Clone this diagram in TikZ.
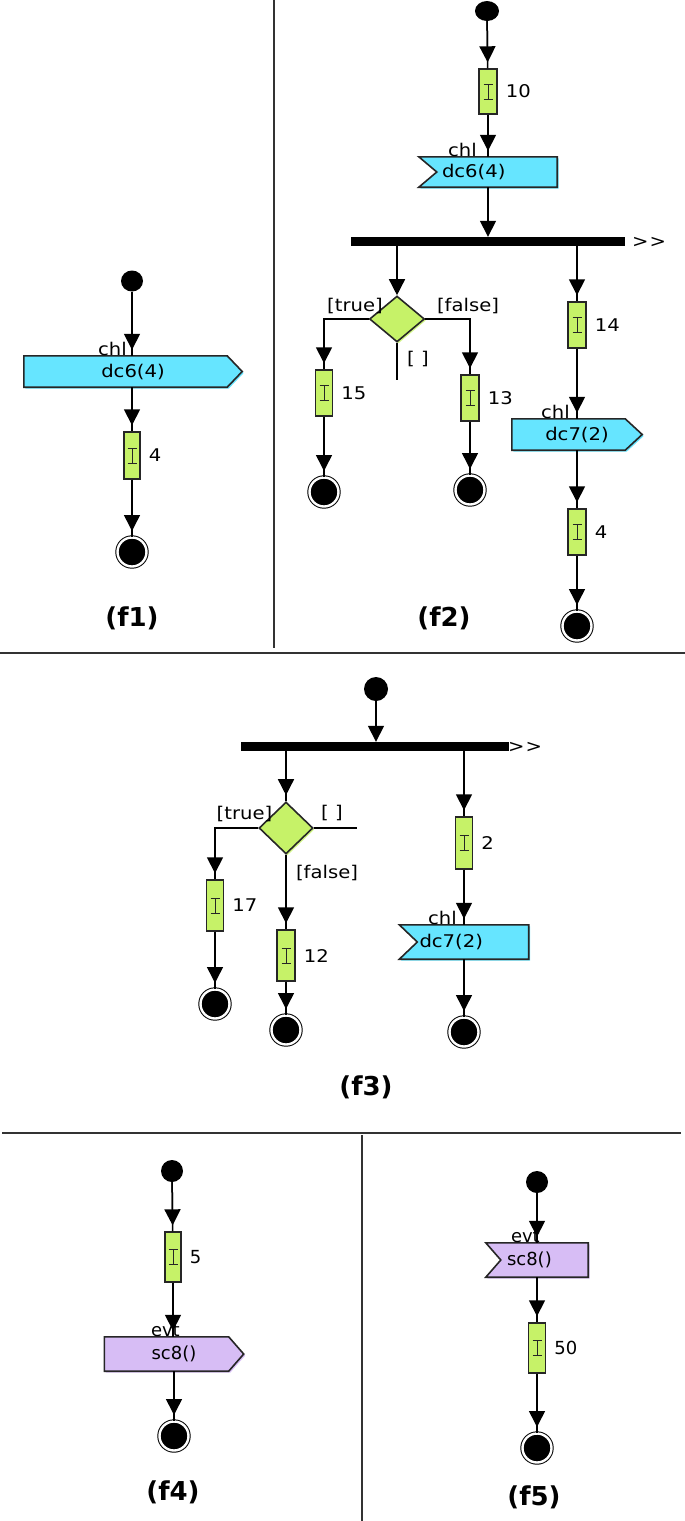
\documentclass[tikz,border=0pt]{standalone}
\usepackage{fontspec}
\setmainfont{DejaVu Sans}
\newfontfamily\wfont[FakeStretch=1.12]{DejaVu Sans}
\usetikzlibrary{arrows.meta,shapes.geometric,backgrounds,shadows}
\definecolor{cyanc}{HTML}{66E5FF}
\definecolor{greenc}{HTML}{C6F268}
\definecolor{purplec}{HTML}{D7BDF5}
\newcommand\curfont{\wfont\fontsize{17.5}{20}\selectfont}
\tikzset{
 conn/.style={line width=1.5pt},
 flow/.style={conn, postaction={draw, -{Triangle[length=16pt,width=16pt]}, shorten >=6pt}},
 flowb/.style={conn, -{Triangle[length=16pt,width=16pt]}},
 txt/.style={font=\curfont, inner sep=0pt},
 initnode/.style={ellipse, fill=black, inner sep=0pt},
 finalnode/.style={circle, draw=black, line width=1pt, double=white, double distance=2.4pt, fill=black, minimum size=29pt, inner sep=0pt},
 actbox/.style={rectangle, draw=black!85, fill=greenc, line width=1.4pt, inner sep=0pt,
   minimum width=17pt, minimum height=46pt,
   path picture={\draw[line width=1pt]
     ([yshift=7.5pt]path picture bounding box.center) -- ([yshift=-7.5pt]path picture bounding box.center)
     ([shift={(-4.5pt,7.5pt)}]path picture bounding box.center) -- ([shift={(4.5pt,7.5pt)}]path picture bounding box.center)
     ([shift={(-4.5pt,-7.5pt)}]path picture bounding box.center) -- ([shift={(4.5pt,-7.5pt)}]path picture bounding box.center);},
   label={[txt, label distance=8pt]right:#1}},
 sigbox/.style={rectangle, inner sep=0pt, font=\curfont},
 shapeline/.style={draw=black!85, line width=1.6pt, line join=miter},
 decision/.style={diamond, draw=black!85, line width=1.6pt, fill=greenc, inner sep=0pt,
   drop shadow={shadow xshift=1.5pt, shadow yshift=-1.5pt, fill=greenc, opacity=0.8}},
 bar/.style={rectangle, fill=black, inner sep=0pt, minimum height=9pt},
 sep/.style={line width=1.2pt, draw=black!80},
 title/.style={font=\bfseries\fontsize{26}{30}\selectfont, inner sep=0pt},
}
\newcommand\SendOut[3]{%
 \begin{scope}[transform canvas={xshift=1.5pt,yshift=-1.5pt}]
  \fill[#3] (#1.north west) -- ([xshift=-#2pt]#1.north east) -- (#1.east) -- ([xshift=-#2pt]#1.south east) -- (#1.south west) -- cycle;
 \end{scope}
 \filldraw[fill=#3, shapeline] (#1.north west) -- ([xshift=-#2pt]#1.north east) -- (#1.east) -- ([xshift=-#2pt]#1.south east) -- (#1.south west) -- cycle;}
\newcommand\RecvOut[3]{%
 \begin{scope}[transform canvas={xshift=1.5pt,yshift=-1.5pt}]
  \fill[#3] (#1.north west) -- (#1.north east) -- (#1.south east) -- (#1.south west) -- ([xshift=#2pt]#1.west) -- cycle;
 \end{scope}
 \filldraw[fill=#3, shapeline] (#1.north west) -- (#1.north east) -- (#1.south east) -- (#1.south west) -- ([xshift=#2pt]#1.west) -- cycle;}
\begin{document}
\begin{tikzpicture}[x=1pt,y=-1pt]
\useasboundingbox (0,0) rectangle (685,1521);
% separators
\draw[sep] (274,0) -- (274,648);
\draw[sep] (0,653) -- (685,653);
\draw[sep] (2,1133) -- (681,1133);
\draw[sep] (362,1135) -- (362,1521);

% ---------- f1
\node[initnode, minimum width=22pt, minimum height=21pt] (i1) at (132,281) {};
\node[sigbox, minimum width=218pt, minimum height=31pt] (s1) at (133,371.5) {dc6(4)};
\node[txt, anchor=south east] (s1l) at (127,356) {chl};
\node[actbox=4, minimum width=16pt, minimum height=47pt] (a4) at (132,455.5) {};
\node[finalnode] (fin1) at (132,552) {};
\node[title] (t1) at (132,618) {(f1)};
\draw[flow] (i1) -- (i1 |- s1.north);
\draw[flow] (s1.south -| a4.north) -- (a4.north);
\draw[flow] (a4) -- (fin1);

% ---------- f2
\node[initnode, minimum width=24pt, minimum height=20pt] (i2) at (487,11) {};
\node[actbox=10, minimum width=18pt, minimum height=45pt] (a10) at (488,91.5) {};
\node[sigbox, minimum width=138pt, minimum height=30pt, inner xsep=23pt, text width=92pt, align=left] (r2) at (488,172) {dc6(4)};
\node[txt, anchor=south east] (r2l) at (477,157) {chl};
\node[bar, minimum width=274pt] (bar2) at (488,241.5) {};
\node[txt, anchor=west] (bar2l) at (632,242) {>\kern1pt>};
\node[decision, minimum width=55pt, minimum height=46pt] (d1) at (397,319) {};
\node[txt] (g1) at (355,306) {[true]};
\node[txt] (g2) at (468,306) {[false]};
\node[txt] (g3) at (418,359) {[ ]};
\coordinate (d1end) at (397,380);
\node[actbox=15, minimum width=17pt] (a15) at (324,393) {};
\node[finalnode] (fin2a) at (324,492) {};
\node[actbox=13, minimum width=18pt] (a13) at (470,398) {};
\node[finalnode] (fin2b) at (470,490) {};
\node[actbox=14, minimum width=18pt] (a14) at (577,325) {};
\node[sigbox, minimum width=130pt, minimum height=31pt] (s2) at (577,434.5) {dc7(2)};
\node[txt, anchor=south east] (s2l) at (570,419) {chl};
\node[actbox=4, minimum width=18pt] (a4b) at (577,532) {};
\node[finalnode] (fin2c) at (577,626) {};
\node[title] (t2) at (444,618) {(f2)};
\draw[flow] (i2) -- (a10);
\draw[flow] (a10) -- (r2);
\draw[flowb] (r2) -- (r2 |- bar2.north);
\draw[flowb] (bar2.south -| d1.north) -- (d1.north);
\draw[flow] (d1.west) -| (a15.north);
\draw[flow] (d1.east) -| (a13.north);
\draw[conn] (d1.south) -- (d1end);
\draw[flow] (a15) -- (fin2a);
\draw[flow] (a13) -- (fin2b);
\draw[flow] (bar2.south -| a14.north) -- (a14.north);
\draw[flow] (a14) -- (s2);
\draw[flow] (s2) -- (a4b);
\draw[flow] (a4b) -- (fin2c);

% ---------- f3
\node[initnode, minimum width=24pt, minimum height=24pt] (i3) at (376,689) {};
\node[bar, minimum width=268pt] (bar3) at (375,746.5) {};
\node[txt, anchor=west] (bar3l) at (508,747) {>\kern1pt>};
\node[decision, minimum width=54pt, minimum height=52pt] (d2) at (286,828) {};
\node[txt] (g4) at (244.5,814) {[true]};
\node[txt] (g5) at (332,813) {[ ]};
\node[txt] (g6) at (327,873) {[false]};
\coordinate (d2end) at (357,828);
\node[actbox=17, minimum height=51pt] (a17) at (215,905.5) {};
\node[finalnode] (fin3a) at (215,1004) {};
\node[actbox=12, minimum width=18pt, minimum height=51pt] (a12) at (286,955.5) {};
\node[finalnode] (fin3b) at (286,1030) {};
\node[actbox=2, minimum height=52pt] (a2) at (464,843) {};
\node[sigbox, minimum width=129pt, minimum height=34pt, inner xsep=20pt, text width=89pt, align=left] (r3) at (464,942) {dc7(2)};
\node[txt, anchor=south east] (r3l) at (457,925) {chl};
\node[finalnode] (fin3c) at (464,1032) {};
\node[title] (t3) at (366,1087) {(f3)};
\draw[flowb] (i3) -- (i3 |- bar3.north);
\draw[flow] (bar3.south -| d2.north) -- (d2.north);
\draw[flow] (d2.west) -| (a17.north);
\draw[conn] (d2.east) -- (d2end);
\draw[flow] (d2.south) -- (a12.north);
\draw[flow] (a17) -- (fin3a);
\draw[flow] (a12) -- (fin3b);
\draw[flow] (bar3.south -| a2.north) -- (a2.north);
\draw[flow] (a2) -- (r3);
\draw[flow] (r3) -- (fin3c);

% ---------- f4 and f5
\begin{scope}
\renewcommand\curfont{\fontsize{18}{21}\selectfont}
\node[initnode, minimum width=22pt, minimum height=22pt] (i4) at (172,1171) {};
\node[actbox=5, minimum width=16pt, minimum height=50pt] (a5) at (173,1257) {};
\node[sigbox, minimum width=139pt, minimum height=34pt] (s4) at (174,1354) {sc8()};
\node[txt, anchor=south east] (s4l) at (180,1337) {evt};
\node[finalnode] (fin4) at (174,1436) {};
\node[title] (t4) at (173,1492) {(f4)};
\draw[flow] (i4) -- (a5);
\draw[flow] (a5) -- (a5 |- s4.north);
\draw[flow] (s4) -- (fin4);

\node[initnode, minimum width=22pt, minimum height=22pt] (i5) at (537,1182) {};
\node[sigbox, minimum width=102pt, minimum height=34pt, inner xsep=21pt, text width=60pt, align=left] (r5) at (537,1260) {sc8()};
\node[txt, anchor=south east] (r5l) at (540,1243) {evt};
\node[actbox=50, minimum width=17pt, minimum height=50pt] (a50) at (537,1348) {};
\node[finalnode] (fin5) at (537,1448) {};
\node[title] (t5) at (534,1497) {(f5)};
\draw[flow] (i5) -- (r5);
\draw[flow] (r5) -- (a50);
\draw[flow] (a50) -- (fin5);
\end{scope}

% signal outlines
\begin{scope}[on background layer]
\SendOut{s1}{15}{cyanc}
\RecvOut{r2}{18}{cyanc}
\SendOut{s2}{17}{cyanc}
\RecvOut{r3}{18}{cyanc}
\SendOut{s4}{15}{purplec}
\RecvOut{r5}{15}{purplec}
\end{scope}
\end{tikzpicture}
\end{document}
